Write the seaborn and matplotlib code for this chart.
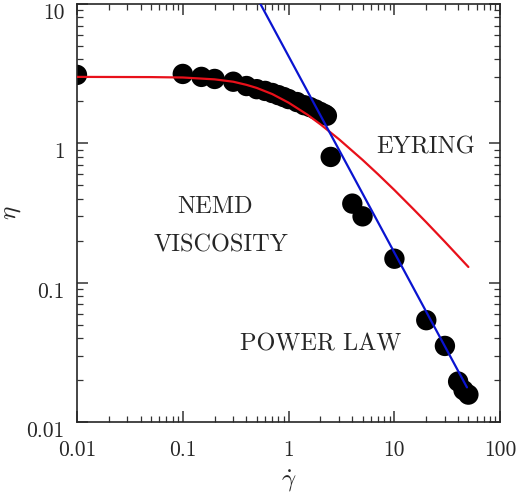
import numpy as np
import pandas as pd
import matplotlib
matplotlib.use('Agg')
import matplotlib.pyplot as plt
import matplotlib.transforms as mtransforms
import seaborn as sns
from matplotlib.ticker import LogLocator, NullFormatter

# NEMD viscosity data
gamma_nemd = [0.01, 0.1, 0.15, 0.2, 0.3, 0.4, 0.5, 0.6, 0.7, 0.8, 0.9, 1.0,
              1.2, 1.4, 1.6, 1.8, 2.0, 2.2, 2.3, 2.5, 4.0, 5.0, 10, 20, 30,
              40, 45, 50]
eta_nemd = [3.1, 3.15, 3.0, 2.9, 2.77, 2.58, 2.45, 2.38, 2.3, 2.22, 2.15, 2.08,
            1.98, 1.88, 1.82, 1.75, 1.68, 1.62, 1.58, 0.8, 0.37, 0.30, 0.149,
            0.054, 0.0353, 0.0196, 0.017, 0.0158]

# Eyring curve
gamma_eyring = [0.01, 0.05, 0.1, 0.2, 0.3, 0.4, 0.5, 0.7, 1.0, 1.5, 2.0, 3.0,
                5.0, 7.0, 10, 15, 20, 30, 50]
eta_eyring = [3.0, 2.99, 2.97, 2.88, 2.77, 2.63, 2.5, 2.26, 1.96, 1.61, 1.37,
              1.07, 0.762, 0.601, 0.463, 0.34, 0.272, 0.197, 0.13]

# power law line (end points)
gamma_power = [0.5, 48.5]
eta_power = [11.2, 0.0178]

xticks = [0.01, 0.1, 1, 10, 100]
xtick_labels = ['0.01', '0.1', '1', '10', '100']
yticks = [0.01, 0.1, 1, 10]
ytick_labels = ['0.01', '0.1', '1', '10']

sns.set_style('ticks')
plt.rcParams['font.family'] = ['serif']
plt.rcParams['font.serif'] = ['cmr10', 'DejaVu Serif']
plt.rcParams['mathtext.fontset'] = 'cm'
plt.rcParams['axes.linewidth'] = 1.2

fig = plt.figure(figsize=(5.2, 4.98), dpi=100)
ax = fig.add_axes([0.148, 0.152, 0.814, 0.840])

df_nemd = pd.DataFrame({'g': gamma_nemd, 'eta': eta_nemd})
df_ey = pd.DataFrame({'g': gamma_eyring, 'eta': eta_eyring})
df_pw = pd.DataFrame({'g': gamma_power, 'eta': eta_power})

sns.scatterplot(data=df_nemd, x='g', y='eta', ax=ax, color='black', s=215,
                edgecolor='none', zorder=2, legend=False)
sns.lineplot(data=df_ey, x='g', y='eta', ax=ax, color='#e8101a', lw=1.6,
             sort=False, estimator=None, zorder=3)
sns.lineplot(data=df_pw, x='g', y='eta', ax=ax, color='#0a14d0', lw=1.6,
             sort=False, estimator=None, zorder=3)

ax.set_xscale('log')
ax.set_yscale('log')
ax.set_xlim(0.01, 100)
ax.set_ylim(0.01, 10)

ax.set_xticks(xticks)
ax.set_xticklabels(xtick_labels)
ax.set_yticks(yticks)
ax.set_yticklabels(ytick_labels)
ax.xaxis.set_minor_locator(LogLocator(base=10, subs=np.arange(2, 10)))
ax.yaxis.set_minor_locator(LogLocator(base=10, subs=np.arange(2, 10)))
ax.xaxis.set_minor_formatter(NullFormatter())
ax.yaxis.set_minor_formatter(NullFormatter())
ax.tick_params(which='both', direction='in', top=True, right=True, labelsize=15.5,
               color='#333333')
ax.tick_params(which='major', length=8, width=1.1)
ax.tick_params(which='minor', length=4, width=0.9)
ax.tick_params(axis='x', which='major', pad=13)
ax.tick_params(axis='y', which='major', pad=9)

# y tick labels sit a little below their ticks in the original
shift = mtransforms.ScaledTranslation(0, -5 / 72, fig.dpi_scale_trans)
for lab in ax.get_yticklabels():
    lab.set_transform(lab.get_transform() + shift)

ax.set_xlabel(r'$\dot{\gamma}$', fontsize=18, labelpad=6)
ax.set_ylabel(r'$\eta$', fontsize=18, labelpad=2)

ax.text(19.7, 0.93, 'EYRING', fontsize=17.5, ha='center', va='center')
ax.text(0.2, 0.35, 'NEMD', fontsize=17.5, ha='center', va='center')
ax.text(0.23, 0.187, 'VISCOSITY', fontsize=17.5, ha='center', va='center')
ax.text(2.0, 0.036, 'POWER LAW', fontsize=17.5, ha='center', va='center')

fig.savefig('out.png', dpi=100)
